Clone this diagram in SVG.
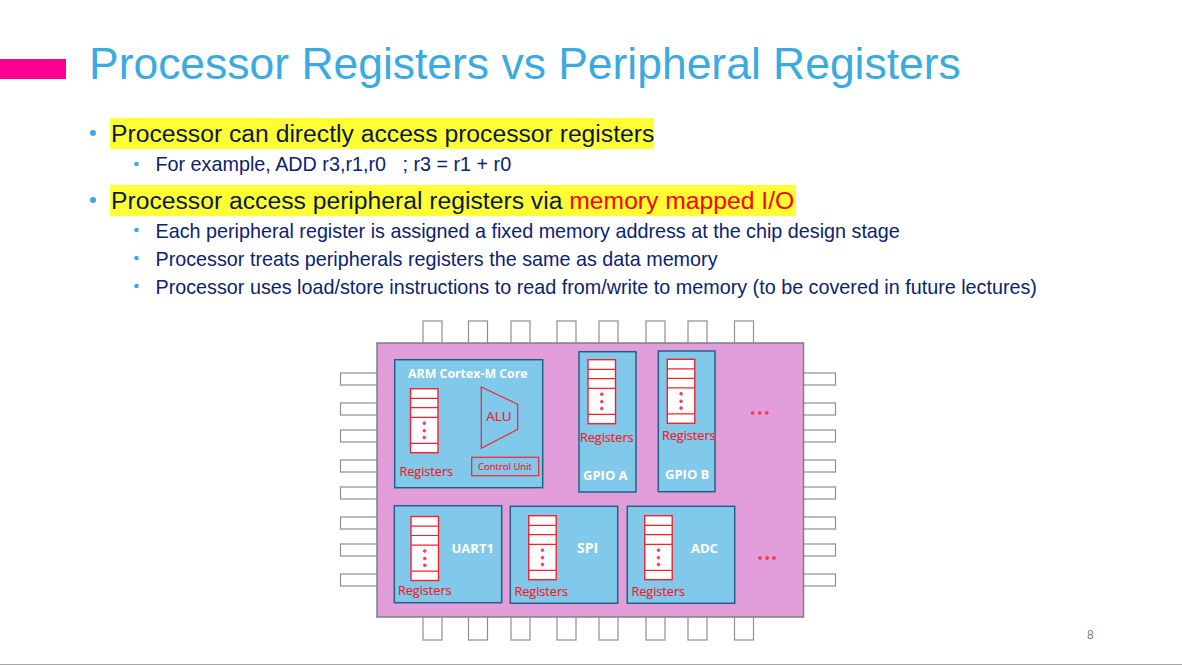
<svg xmlns="http://www.w3.org/2000/svg" width="1182" height="665" viewBox="0 0 1182 665">
<style>
text{font-family:"Liberation Sans",Arial,sans-serif}
.title{font-size:44.45px;fill:#3aabe0}
.l1{font-size:24.7px;fill:#0a1a4a}
.l2{font-size:19.75px;fill:#0b2370}
.bul{fill:#3aabe0}
.pin{fill:#fff;stroke:#8f8f8f;stroke-width:1.2}
.chip{fill:#e29edb;stroke:#7f7f7f;stroke-width:1.5}
.blk{fill:#80c9ea;stroke:#255f86;stroke-width:1.5}
.reg{fill:#fff;stroke:#f5222d;stroke-width:1.4}
.ln{stroke:#f5222d;stroke-width:1.2;fill:none}
.dot{fill:#f5506a;stroke:#f5304a;stroke-width:1}
.r{font-family:"Open Sans","Liberation Sans",sans-serif;font-size:12.6px;fill:#ee1c2a;stroke:#ee1c2a;stroke-width:.2}
.w{font-family:"Open Sans","Liberation Sans",sans-serif;font-size:13px;font-weight:700;fill:#fff}
</style>
<defs>
<g id="stack">
<rect class="reg" x="0" y="0" width="27.5" height="64"/>
<path class="ln" d="M0 9.6H27.5M0 19H27.5M0 28.6H27.5M0 54.6H27.5"/>
<circle class="dot" cx="13.8" cy="34.5" r="1.3"/><circle class="dot" cx="13.8" cy="42" r="1.3"/><circle class="dot" cx="13.8" cy="48.8" r="1.3"/>
</g>
<g id="dots3"><circle class="dot" cx="0" cy="0" r="1.4"/><circle class="dot" cx="7" cy="0" r="1.4"/><circle class="dot" cx="14" cy="0" r="1.4"/></g>
</defs>
<rect width="1182" height="665" fill="#fff"/>
<rect id="accent-bar" x="0" y="59" width="66" height="20" fill="#ff0090"/>
<text class="title" x="89" y="79">Processor Registers vs Peripheral Registers</text>
<g id="bullets">
<rect x="110" y="118" width="544" height="31" fill="#ffff33"/>
<rect x="110" y="185" width="686" height="31" fill="#ffff33"/>
<circle class="bul" cx="93" cy="133" r="3"/>
<text class="l1" x="111" y="142">Processor can directly access processor registers</text>
<circle class="bul" cx="136.500" cy="164" r="2.300"/>
<text class="l2" x="155.500" y="171" xml:space="preserve">For example, ADD r3,r1,r0   ; r3 = r1 + r0</text>
<circle class="bul" cx="93" cy="200" r="3"/>
<text class="l1" x="111" y="209">Processor access peripheral registers via <tspan fill="#ff0000">memory mapped I/O</tspan></text>
<circle class="bul" cx="136.500" cy="230" r="2.300"/>
<text class="l2" x="155.500" y="237.500">Each peripheral register is assigned a fixed memory address at the chip design stage</text>
<circle class="bul" cx="136.500" cy="258" r="2.300"/>
<text class="l2" x="155.500" y="265.500">Processor treats peripherals registers the same as data memory</text>
<circle class="bul" cx="136.500" cy="286" r="2.300"/>
<text class="l2" x="155.500" y="293.500">Processor uses load/store instructions to read from/write to memory (to be covered in future lectures)</text>
</g>
<g id="pins">
<rect class="pin" x="423" y="321" width="19" height="24"/><rect class="pin" x="468.500" y="321" width="19" height="24"/><rect class="pin" x="511" y="321" width="19" height="24"/><rect class="pin" x="557" y="321" width="19" height="24"/><rect class="pin" x="599" y="321" width="19" height="24"/><rect class="pin" x="646" y="321" width="19" height="24"/><rect class="pin" x="688" y="321" width="19" height="24"/><rect class="pin" x="734.500" y="321" width="19" height="24"/>
<rect class="pin" x="423" y="615" width="19" height="25"/><rect class="pin" x="468.500" y="615" width="19" height="25"/><rect class="pin" x="511" y="615" width="19" height="25"/><rect class="pin" x="557" y="615" width="19" height="25"/><rect class="pin" x="599" y="615" width="19" height="25"/><rect class="pin" x="646" y="615" width="19" height="25"/><rect class="pin" x="688" y="615" width="19" height="25"/><rect class="pin" x="734.500" y="615" width="19" height="25"/>
<rect class="pin" x="340.500" y="373" width="40" height="12"/><rect class="pin" x="340.500" y="403" width="40" height="12"/><rect class="pin" x="340.500" y="430" width="40" height="12"/><rect class="pin" x="340.500" y="460" width="40" height="12"/><rect class="pin" x="340.500" y="487" width="40" height="12"/><rect class="pin" x="340.500" y="517" width="40" height="12"/><rect class="pin" x="340.500" y="544" width="40" height="12"/><rect class="pin" x="340.500" y="574" width="40" height="12"/>
<rect class="pin" x="800" y="373" width="35.500" height="12"/><rect class="pin" x="800" y="403" width="35.500" height="12"/><rect class="pin" x="800" y="430" width="35.500" height="12"/><rect class="pin" x="800" y="460" width="35.500" height="12"/><rect class="pin" x="800" y="487" width="35.500" height="12"/><rect class="pin" x="800" y="517" width="35.500" height="12"/><rect class="pin" x="800" y="544" width="35.500" height="12"/><rect class="pin" x="800" y="574" width="35.500" height="12"/>
</g>
<rect id="chip" class="chip" x="377" y="343" width="426.500" height="274"/>
<g id="core">
<rect class="blk" x="394.700" y="359.700" width="148" height="128"/>
<text class="w" x="408" y="378" style="font-size:12.350px">ARM Cortex-M Core</text>
<use href="#stack" x="410.500" y="388.700"/>
<polygon class="ln" points="481.300,387 517.700,404.300 517.700,429.300 481.300,448.300"/>
<text class="r" x="499" y="421" text-anchor="middle" style="font-size:13.500px">ALU</text>
<rect class="ln" x="471.700" y="457.300" width="67" height="18.400" stroke-width="1.4"/>
<text class="r" x="505" y="469.500" text-anchor="middle" style="font-size:9.500px">Control Unit</text>
<text class="r" x="399.500" y="475.700">Registers</text>
</g>
<g id="gpio-a">
<rect class="blk" x="579" y="351.700" width="57" height="140.300"/>
<use href="#stack" x="588" y="359.700"/>
<text class="r" x="580" y="441.700">Registers</text>
<text class="w" x="583" y="480">GPIO A</text>
</g>
<g id="gpio-b">
<rect class="blk" x="658.300" y="351" width="56.700" height="140.700"/>
<use href="#stack" x="667.300" y="359.300"/>
<text class="r" x="662" y="440">Registers</text>
<text class="w" x="665" y="479.300">GPIO B</text>
</g>
<use id="more-top" href="#dots3" x="752.700" y="413"/>
<g id="uart1">
<rect class="blk" x="394.300" y="505.700" width="107.400" height="97"/>
<use href="#stack" x="411" y="516.500"/>
<text class="r" x="398" y="595">Registers</text>
<text class="w" x="451.500" y="553.300">UART1</text>
</g>
<g id="spi">
<rect class="blk" x="510.300" y="506.300" width="107.400" height="97"/>
<use href="#stack" x="528.700" y="515.700"/>
<text class="r" x="514.500" y="596">Registers</text>
<text class="w" x="577" y="552.700" style="font-size:14px">SPI</text>
</g>
<g id="adc">
<rect class="blk" x="627.300" y="506.300" width="107.400" height="97"/>
<use href="#stack" x="644.700" y="515.700"/>
<text class="r" x="631.500" y="596">Registers</text>
<text class="w" x="691" y="552.700">ADC</text>
</g>
<use id="more-bottom" href="#dots3" x="760" y="558"/>
<text x="1087" y="639" font-size="12" fill="#7f7f7f">8</text>
<line id="footer-rule" x1="0" y1="664.500" x2="1182" y2="664.500" stroke="#a6a6a6" stroke-width="1"/>
</svg>
